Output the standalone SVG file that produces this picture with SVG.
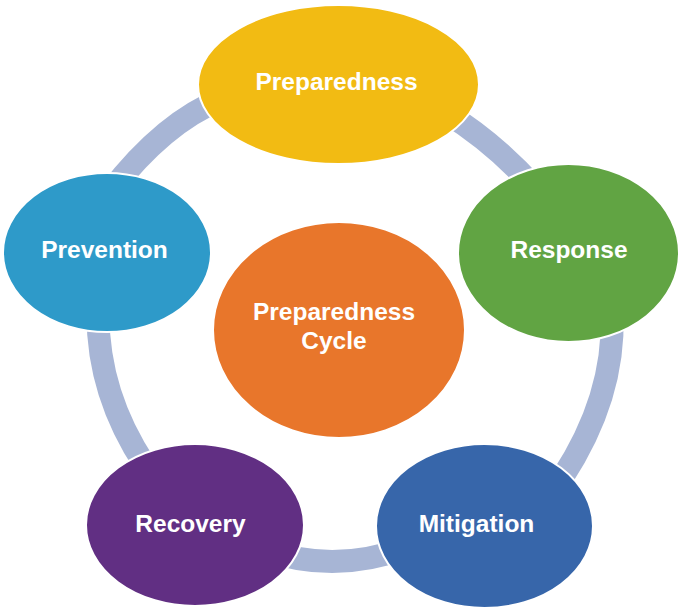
<svg xmlns="http://www.w3.org/2000/svg" width="685" height="611" viewBox="0 0 685 611">
<style>
.ring{fill:none;stroke:#A7B5D5;stroke-width:23;stroke-linecap:butt}
.node{stroke:#FFFFFF;stroke-width:2}
.lbl{font-family:"Liberation Sans",Arial,sans-serif;font-weight:bold;font-size:24.5px;fill:#FFFFFF;text-anchor:middle}
</style>
<rect width="685" height="611" fill="#FFFFFF"/>
<g id="connectors">
<path class="ring" d="M110,192 Q164,122 222,99"/>
<path class="ring" d="M445,112 Q495,143 535,188"/>
<path class="ring" d="M612,315 Q615,397 562,478"/>
<path class="ring" d="M265,550 Q335,574 405,548"/>
<path class="ring" d="M98,315 Q98,394 145,465"/>
</g>
<g id="preparedness">
<ellipse class="node" cx="338.5" cy="84.5" rx="140.5" ry="79.5" fill="#F2BB13"/>
<text class="lbl" x="336.5" y="90">Preparedness</text>
</g>
<g id="response">
<ellipse class="node" cx="568.5" cy="253" rx="110.5" ry="89" fill="#61A443"/>
<text class="lbl" x="569" y="258">Response</text>
</g>
<g id="mitigation">
<ellipse class="node" cx="484.5" cy="526" rx="108.5" ry="82" fill="#3766AA"/>
<text class="lbl" x="476.5" y="532">Mitigation</text>
</g>
<g id="recovery">
<ellipse class="node" cx="195" cy="525" rx="109" ry="81" fill="#612F83"/>
<text class="lbl" x="190.5" y="532">Recovery</text>
</g>
<g id="prevention">
<ellipse class="node" cx="107" cy="252.5" rx="104" ry="79.5" fill="#2E9AC9"/>
<text class="lbl" x="104.5" y="257.5">Prevention</text>
</g>
<g id="center">
<ellipse class="node" cx="339" cy="330" rx="126" ry="108" fill="#E8762B"/>
<text class="lbl" x="334" y="319.5">Preparedness</text>
<text class="lbl" x="334" y="348.5">Cycle</text>
</g>
</svg>
